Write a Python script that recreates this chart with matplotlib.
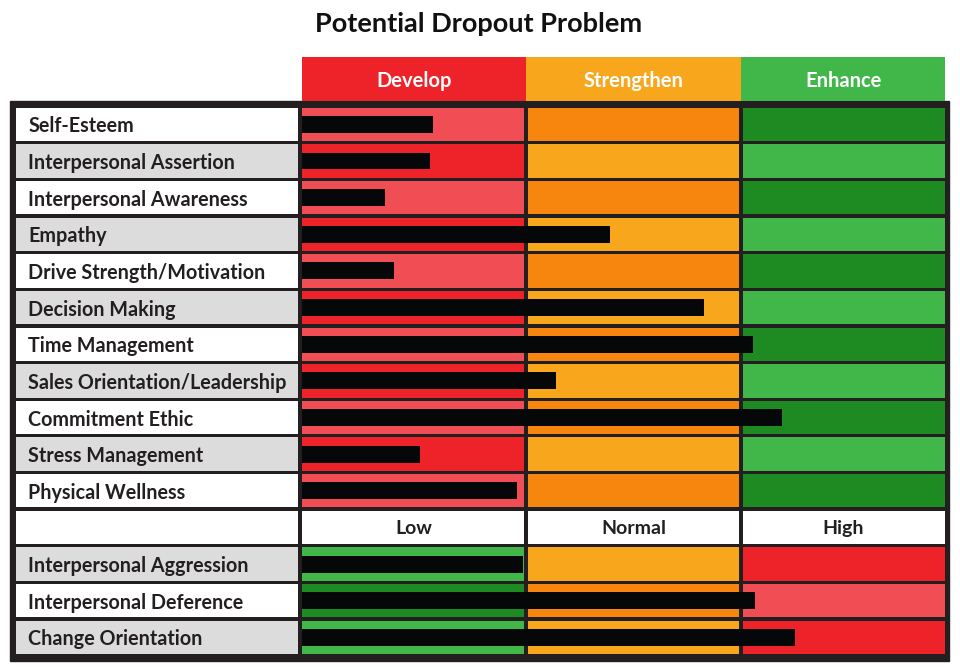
import matplotlib.pyplot as plt
from matplotlib.patches import Rectangle

plt.rcParams['font.family'] = ['Lato', 'DejaVu Sans']

# 数据
traits = ['Self-Esteem', 'Interpersonal Assertion', 'Interpersonal Awareness', 'Empathy',
          'Drive Strength/Motivation', 'Decision Making', 'Time Management',
          'Sales Orientation/Leadership', 'Commitment Ethic', 'Stress Management',
          'Physical Wellness']
trait_scores = [20.4, 19.9, 12.9, 47.9, 14.3, 62.5, 70.1, 39.5, 74.6, 18.4, 33.4]

style_traits = ['Interpersonal Aggression', 'Interpersonal Deference', 'Change Orientation']
style_scores = [34.4, 70.5, 76.7]

bands = ['Develop', 'Strengthen', 'Enhance']
levels = ['Low', 'Normal', 'High']
band_edges = [0, 34.8, 68.3, 100]

# 颜色
RED, RED_L = '#EE2229', '#F04E54'
ORG, ORG_D = '#F8A61C', '#F7860F'
GRN, GRN_D = '#41B649', '#1E8B22'
FRAME = '#231F20'
BAR = '#060709'
GRAY = '#DCDCDC'

fig = plt.figure(figsize=(9.6, 6.71), dpi=100)
ax = fig.add_axes([0, 0, 1, 1])
ax.axis('off')
# x: 0..100 分数；y: 行号
px = 6.43
ax.set_xlim(-302 / px, (960 - 302) / px)
ax.set_ylim((671 - 124.3) / 36.65, -124.3 / 36.65)

# 外框
ax.add_patch(Rectangle((-45.4, -0.64), 146.0, 15.28, color=FRAME, zorder=0))

# 标题
fig.text(0.498, 1 - 24 / 671, 'Potential Dropout Problem', ha='center', va='center',
         fontsize=19.5, fontweight='bold', color='#111111')

# 表头
hdr_colors = [RED, ORG, GRN]
for b, name in enumerate(bands):
    ax.barh(-1.236, band_edges[b + 1] - band_edges[b], left=band_edges[b], height=1.2,
            color=hdr_colors[b], zorder=1)
    ax.text((band_edges[b] + band_edges[b + 1]) / 2, -1.236, name, ha='center',
            va='center_baseline', color='white', fontsize=14.5, fontweight='bold')

gap = 0.045
hg = 0.3
rows_all = traits + [''] + style_traits
top_cols = [(RED_L, ORG_D, GRN_D), (RED, ORG, GRN)]
bot_cols = [(GRN, ORG, RED), (GRN_D, ORG_D, RED_L)]

for i, name in enumerate(rows_all):
    shaded = (i < 11 and i % 2 == 1) or (i > 11 and i % 2 == 0)
    lab_col = GRAY if shaded else 'white'
    ax.barh(i, -0.6 + 44.5, left=-44.5, height=1 - 2 * gap, color=lab_col, zorder=1)
    if name:
        ax.text(-42.6, i, name, ha='left', va='center_baseline', fontsize=14.2,
                fontweight='bold', color='#231F20', zorder=3)
    if i < 11:
        cols = top_cols[i % 2]
    elif i == 11:
        cols = ('white', 'white', 'white')
    else:
        cols = bot_cols[(i - 12) % 2]
    for b in range(3):
        l = band_edges[b] + (hg if b > 0 else 0)
        r = band_edges[b + 1] - (hg if b < 2 else 0)
        ax.barh(i, r - l, left=l, height=1 - 2 * gap, color=cols[b], zorder=1)

# 等级行文字
for b, lv in enumerate(levels):
    ax.text((band_edges[b] + band_edges[b + 1]) / 2, 11, lv, ha='center',
            va='center_baseline', fontsize=14, fontweight='bold', color='#231F20')

# 分数条
ax.barh(range(len(traits)), trait_scores, height=0.46, color=BAR, zorder=2)
ax.barh(range(12, 12 + len(style_traits)), style_scores, height=0.46, color=BAR, zorder=2)

fig.savefig('out.png', dpi=100)
